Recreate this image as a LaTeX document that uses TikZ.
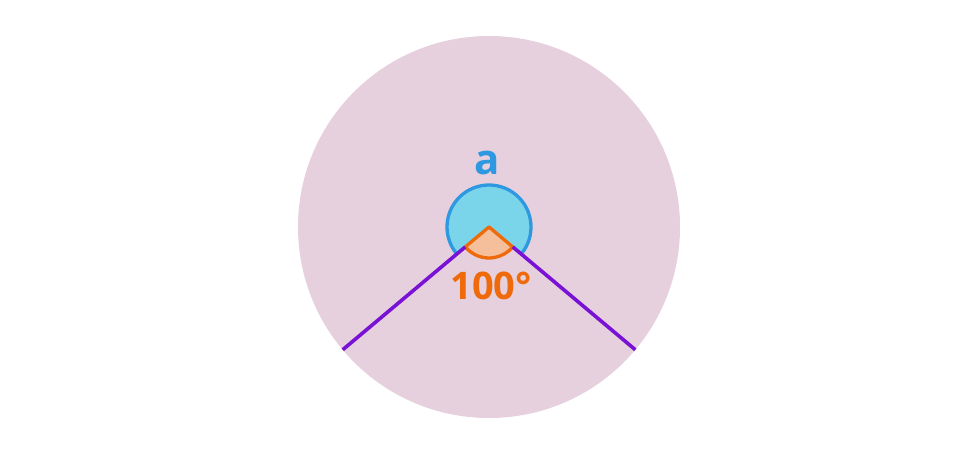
\documentclass[tikz,border=0pt]{standalone}
\usepackage{fontspec}
\setmainfont{Open Sans}
\usetikzlibrary{calc}
\definecolor{bgpink}{HTML}{E6D0DE}
\definecolor{bluefill}{HTML}{7AD5EA}
\definecolor{blueline}{HTML}{2E98E0}
\definecolor{orangeline}{HTML}{EE6A0A}
\definecolor{orangefill}{HTML}{F6BF9B}
\definecolor{purpleline}{HTML}{7A12D6}
\begin{document}
\begin{tikzpicture}[x=1pt,y=1pt,
  ray/.style={draw=purpleline,line width=3.6pt},
  bigdisc/.style={fill=bgpink},
  anglelbl/.style={font=\bfseries\fontsize{38}{38}\selectfont,text=orangeline,inner sep=0pt},
  letterlbl/.style={font=\bfseries\fontsize{42}{42}\selectfont,text=blueline,inner sep=0pt}]
\useasboundingbox[fill=white] (0,0) rectangle (976,453);
\coordinate (O) at (489,226);
\fill[bigdisc] (O) circle[radius=191];
% blue reflex sector
\fill[bluefill] (O) -- ++(-40:42) arc[start angle=-40,end angle=220,radius=42] -- cycle;
\draw[blueline,line width=3.3pt] ($(O)+(-40:42)$) arc[start angle=-40,end angle=220,radius=42];
% orange sector
\draw[orangeline,fill=orangefill,line width=3.3pt,line join=round] (O) -- ++(-140:31) arc[start angle=-140,end angle=-40,radius=31] -- cycle;
% rays
\coordinate (L1) at ($(O)+(-140:31)$);
\coordinate (L2) at ($(O)+(-140:191)$);
\coordinate (R1) at ($(O)+(-40:31)$);
\coordinate (R2) at ($(O)+(-40:191)$);
\draw[ray] (L1) -- (L2);
\draw[ray] (R1) -- (R2);
\node[letterlbl] (alpha) at (487,290) {a};
\node[anglelbl] (deg) at (491,167) {100°};
\end{tikzpicture}
\end{document}
